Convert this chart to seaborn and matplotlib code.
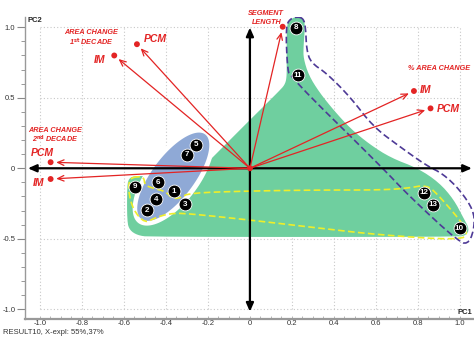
import numpy as np
import pandas as pd
import matplotlib
matplotlib.use("Agg")
import matplotlib.pyplot as plt
import seaborn as sns
from matplotlib.patches import Polygon

sns.set_style("white")
plt.rcParams['font.family'] = ['Liberation Sans', 'DejaVu Sans']

# sample scores (numbered black circles)
sample_ids = ['1', '2', '3', '4', '5', '6', '7', '8', '9', '10', '11', '12', '13']
sample_pc1 = [-0.362, -0.490, -0.308, -0.449, -0.257, -0.440, -0.299, 0.218, -0.548, 0.998, 0.230, 0.829, 0.870]
sample_pc2 = [-0.163, -0.298, -0.255, -0.218, 0.166, -0.100, 0.096, 0.995, -0.130, -0.426, 0.660, -0.173, -0.260]

# variable loadings (red arrows)
loading_names = ['IM 1st', 'PCM 1st', 'PCM 2nd', 'IM 2nd', 'Segment length', 'IM %', 'PCM %']
loading_pc1 = [-0.646, -0.538, -0.949, -0.949, 0.156, 0.781, 0.860]
loading_pc2 = [0.800, 0.880, 0.043, -0.076, 1.004, 0.548, 0.425]

RED = "#e32424"
GREEN = "#6fcf9f"
BLUE = "#8fa9d6"
YELLOW = "#eeee2a"
PURPLE = "#4e3a96"

fig = plt.figure(figsize=(4.74, 3.55), dpi=100)
ax = fig.add_axes([25 / 474, 36 / 355, 449 / 474, 302 / 355])
XL, YL = (-1.071, 1.067), (-1.069, 1.073)
ax.set_xlim(*XL)
ax.set_ylim(*YL)
SX = 449 / (XL[1] - XL[0])
SY = 302 / (YL[1] - YL[0])


def chaikin(pts, n=2):
    p = np.asarray(pts, float)
    for _ in range(n):
        q = np.roll(p, -1, axis=0)
        a = 0.75 * p + 0.25 * q
        b = 0.25 * p + 0.75 * q
        p = np.empty((2 * len(a), 2))
        p[0::2] = a
        p[1::2] = b
    return p


def ellipse_pts(cx, cy, a, b, ang, n=120):
    t = np.linspace(0, 2 * np.pi, n)
    ph = np.radians(ang)
    u, v = a * np.cos(t), b * np.sin(t)
    dx = u * np.cos(ph) - v * np.sin(ph)
    dy = u * np.sin(ph) + v * np.cos(ph)
    return np.column_stack([cx + dx / SX, cy + dy / SY])


# dotted grid inside [-1, 1]
for gx in np.arange(-1.0, 1.01, 0.2):
    ax.plot([gx, gx], [-1, 1], ls=(0, (1, 2)), color="#c8c8c8", lw=0.8, zorder=0)
for gy in [-1.0, -0.5, 0.5, 1.0]:
    ax.plot([-1, 1], [gy, gy], ls=(0, (1, 2)), color="#c8c8c8", lw=0.8, zorder=0)

# green group hull
green = [(0.175, 1.0), (0.185, 1.05), (0.225, 1.08), (0.258, 1.062), (0.262, 1.0), (0.255, 0.86),
         (0.255, 0.78), (0.28, 0.66), (0.33, 0.54), (0.40, 0.41), (0.48, 0.28), (0.57, 0.17),
         (0.67, 0.075), (0.80, 0.0), (0.90, -0.10), (0.97, -0.22), (1.016, -0.35), (1.045, -0.43),
         (1.03, -0.475), (0.99, -0.487), (-0.48, -0.487), (-0.535, -0.475), (-0.572, -0.44),
         (-0.585, -0.38), (-0.585, -0.12), (-0.575, -0.07), (-0.55, -0.055), (-0.50, -0.055),
         (-0.40, -0.05), (-0.29, -0.09), (-0.206, 0.035), (0.0, 0.343), (0.10, 0.49), (0.14, 0.55),
         (0.165, 0.59), (0.175, 0.64), (0.175, 0.75)]
ax.add_patch(Polygon(chaikin(green, 2), closed=True, fc=GREEN, ec='none', zorder=1))

# blue ellipse with white margin
ax.add_patch(Polygon(ellipse_pts(-0.365, -0.06, 58, 26, 53), closed=True, fc='white', ec='none', zorder=2))
ax.add_patch(Polygon(ellipse_pts(-0.365, -0.06, 53, 21, 53), closed=True, fc=BLUE, ec='none', zorder=3))

# yellow dashed outline
yellow = [(-0.571, -0.07), (-0.53, -0.058), (-0.505, -0.065), (-0.5, -0.12), (-0.46, -0.142),
          (-0.40, -0.165), (-0.37, -0.215), (-0.33, -0.21), (-0.29, -0.175), (0.0, -0.161),
          (0.33, -0.154), (0.62, -0.154), (0.746, -0.142), (0.84, -0.118), (0.889, -0.177),
          (1.0, -0.367), (1.04, -0.46), (1.0, -0.51), (0.62, -0.473), (0.333, -0.425), (0.0, -0.367),
          (-0.3, -0.32), (-0.38, -0.32), (-0.45, -0.35), (-0.5, -0.39), (-0.556, -0.296), (-0.58, -0.154)]
yl = chaikin(yellow, 2)
yl = np.vstack([yl, yl[:1]])
ax.plot(yl[:, 0], yl[:, 1], color=YELLOW, lw=1.2, ls=(0, (4, 2)), zorder=4)

# purple dashed outline
purple = [(0.23, 1.075), (0.255, 1.06), (0.265, 1.0), (0.27, 0.84), (0.29, 0.75), (0.365, 0.674),
          (0.476, 0.508), (0.587, 0.295), (0.714, 0.153), (0.84, 0.02), (0.92, -0.04), (1.0, -0.154),
          (1.064, -0.296), (1.07, -0.41), (1.045, -0.53), (1.0, -0.53), (0.76, -0.2), (0.62, 0.02),
          (0.19, 0.65), (0.178, 0.72), (0.171, 1.0), (0.19, 1.06)]
pl = chaikin(purple, 2)
pl = np.vstack([pl, pl[:1]])
ax.plot(pl[:, 0], pl[:, 1], color=PURPLE, lw=1.2, ls=(0, (4, 2)), zorder=4.5)

# black axes arrows
for tip in [(-1.057, 0), (1.057, 0), (0, 0.998), (0, -1.017)]:
    ax.annotate('', xy=tip, xytext=(0, 0),
                arrowprops=dict(arrowstyle='-|>,head_length=0.5,head_width=0.22', color='black',
                                lw=1.6, shrinkA=0, shrinkB=0), zorder=5)

# red loading arrows
for lx, ly in zip(loading_pc1, loading_pc2):
    ax.annotate('', xy=(lx, ly), xytext=(0, 0),
                arrowprops=dict(arrowstyle='->,head_length=0.45,head_width=0.2', color=RED,
                                lw=0.9, shrinkA=0, shrinkB=4), zorder=6)
load_df = pd.DataFrame({'pc1': loading_pc1 + [0], 'pc2': loading_pc2 + [0]})
sns.scatterplot(data=load_df, x='pc1', y='pc2', color=RED, s=18, edgecolor='none', ax=ax, zorder=7)

# numbered samples
samp_df = pd.DataFrame({'pc1': sample_pc1, 'pc2': sample_pc2, 'id': sample_ids})
sns.scatterplot(data=samp_df, x='pc1', y='pc2', color='black', s=85, edgecolor='white',
                linewidth=0.6, ax=ax, zorder=8)
for _, r in samp_df.iterrows():
    ax.text(r.pc1, r.pc2, r.id, color='white', fontsize=5.8, fontweight='bold',
            ha='center', va='center', zorder=9)

# red labels
lab = dict(color=RED, fontweight='bold', fontstyle='italic', ha='center', va='center', zorder=9, clip_on=False)
ax.text(-0.754, 0.962, 'AREA CHANGE', fontsize=5.2, **lab)
ax.text(-0.754, 0.893, r'1$^{\mathbf{st}}$ DECADE', fontsize=5.2, **lab)
ax.text(-0.449, 0.92, 'PCM', fontsize=7.5, **lab)
ax.text(-0.714, 0.768, 'IM', fontsize=7.5, **lab)
ax.text(-0.929, 0.271, 'AREA CHANGE', fontsize=5.2, **lab)
ax.text(-0.929, 0.206, r'2$^{\mathbf{nd}}$ DECADE', fontsize=5.2, **lab)
ax.text(-0.989, 0.106, 'PCM', fontsize=7.5, **lab)
ax.text(-1.008, -0.106, 'IM', fontsize=7.5, **lab)
ax.text(0.078, 1.099, 'SEGMENT', fontsize=5.2, **lab)
ax.text(0.078, 1.033, 'LENGTH', fontsize=5.2, **lab)
ax.text(0.901, 0.709, '% AREA CHANGE', fontsize=5.2, **lab)
ax.text(0.838, 0.553, 'IM', fontsize=7.5, **lab)
ax.text(0.946, 0.423, 'PCM', fontsize=7.5, **lab)

ax.text(-1.024, 1.045, 'PC2', fontsize=5.5, fontweight='bold', ha='center', va='center')
ax.text(1.024, -1.026, 'PC1', fontsize=5.5, fontweight='bold', ha='center', va='center')

# axes styling
ax.set_xlabel('')
ax.set_ylabel('')
for s in ['top', 'right']:
    ax.spines[s].set_visible(False)
ax.spines['left'].set_color('#999999')
ax.spines['left'].set_linewidth(1.0)
ax.spines['bottom'].set_color('#999999')
ax.spines['bottom'].set_linewidth(1.6)
ax.set_yticks([-1.0, -0.5, 0, 0.5, 1.0])
ax.set_yticklabels(['-1.0', '-0.5', '0', '0.5', '1.0'])
ax.set_yticks(np.arange(-1.0, 1.01, 0.1), minor=True)
xt = np.round(np.arange(-1.0, 1.01, 0.2), 1)
ax.set_xticks(xt)
ax.set_xticklabels(['0' if v == 0 else f'{v:.1f}' for v in xt])
ax.set_xticks(np.arange(-1.0, 1.01, 0.05), minor=True)
ax.tick_params(axis='y', which='major', length=6, width=0.8, color='#888888', labelsize=5.5,
               labelcolor='#333333', pad=1, direction='out', left=True)
ax.tick_params(axis='y', which='minor', length=3, width=0.6, color='#888888', left=True)
ax.tick_params(axis='x', which='both', length=2, width=0.6, color='#aaaaaa', labelsize=5.5,
               labelcolor='#333333', pad=1, direction='in', bottom=True)

fig.text(0.006, 0.062, 'RESULT10, X-expl: 55%,37%', fontsize=5.5, color='#333333', va='center')

fig.savefig('out.png', dpi=100)
